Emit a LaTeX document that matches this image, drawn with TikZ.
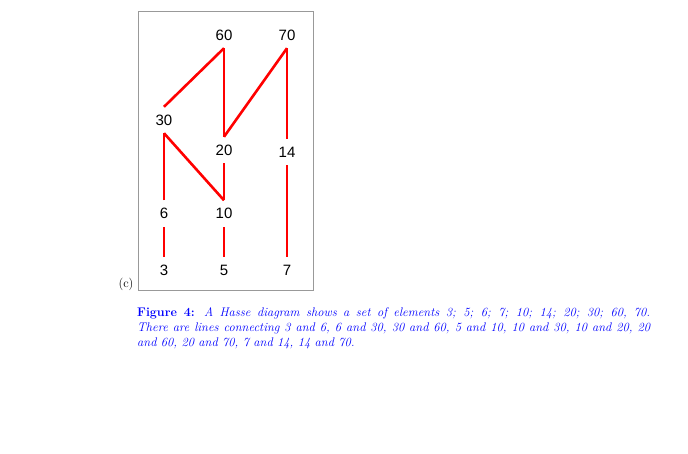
\documentclass[tikz,border=0pt]{standalone}
\usepackage{fontspec}
\usepackage{tikz}
\usepackage{xcolor}
\newfontfamily\numfont{Liberation Sans}
\tikzset{
  elem/.style={font=\numfont\fontsize{15}{18}\selectfont, inner sep=0pt, minimum height=26pt, minimum width=20pt},
  cover/.style={red, line width=2.6pt}
}

\begin{document}
\begin{tikzpicture}[x=1pt,y=-1pt]
\useasboundingbox (0,0) rectangle (688,453);

% frame
\draw[gray!80, line width=0.9pt] (138,11) rectangle (313,290);
\node[anchor=base, font=\fontsize{12.5}{15}\selectfont] (lbl) at (126,287) {(c)};

% elements
\node[elem] (n60) at (224,35) {60};
\node[elem] (n70) at (287,35) {70};
\node[elem] (n30) at (164,120) {30};
\node[elem] (n20) at (224,150) {20};
\node[elem] (n14) at (287,152) {14};
\node[elem] (n6) at (164,213.5) {6};
\node[elem] (n10) at (224,213.5) {10};
\node[elem] (n3) at (164,270) {3};
\node[elem] (n5) at (224,270) {5};
\node[elem] (n7) at (287,270) {7};

% cover relations
\draw[cover] (n3.north) -- (n6.south);
\draw[cover] (n6.north) -- (n30.south);
\draw[cover] (n30.north) -- (n60.south);
\draw[cover] (n5.north) -- (n10.south);
\draw[cover] (n10.north) -- (n30.south);
\draw[cover] (n10.north) -- (n20.south);
\draw[cover] (n20.north) -- (n60.south);
\draw[cover] (n20.north) -- (n70.south);
\draw[cover] (n7.north) -- (n14.south);
\draw[cover] (n14.north) -- (n70.south);

% caption
\node[anchor=north west, inner sep=0pt] (cap) at (137,307)
  {\parbox[t]{513pt}{\fontsize{12.5}{15}\selectfont\color{blue}\parindent=0pt
  \textbf{Figure 4:} \itshape A Hasse diagram shows a set of elements 3; 5; 6; 7; 10; 14; 20; 30; 60, 70.\linebreak
  There are lines connecting 3 and 6, 6 and 30, 30 and 60, 5 and 10, 10 and 30, 10 and 20, 20\linebreak
  and 60, 20 and 70, 7 and 14, 14 and 70.}};
\end{tikzpicture}
\end{document}
